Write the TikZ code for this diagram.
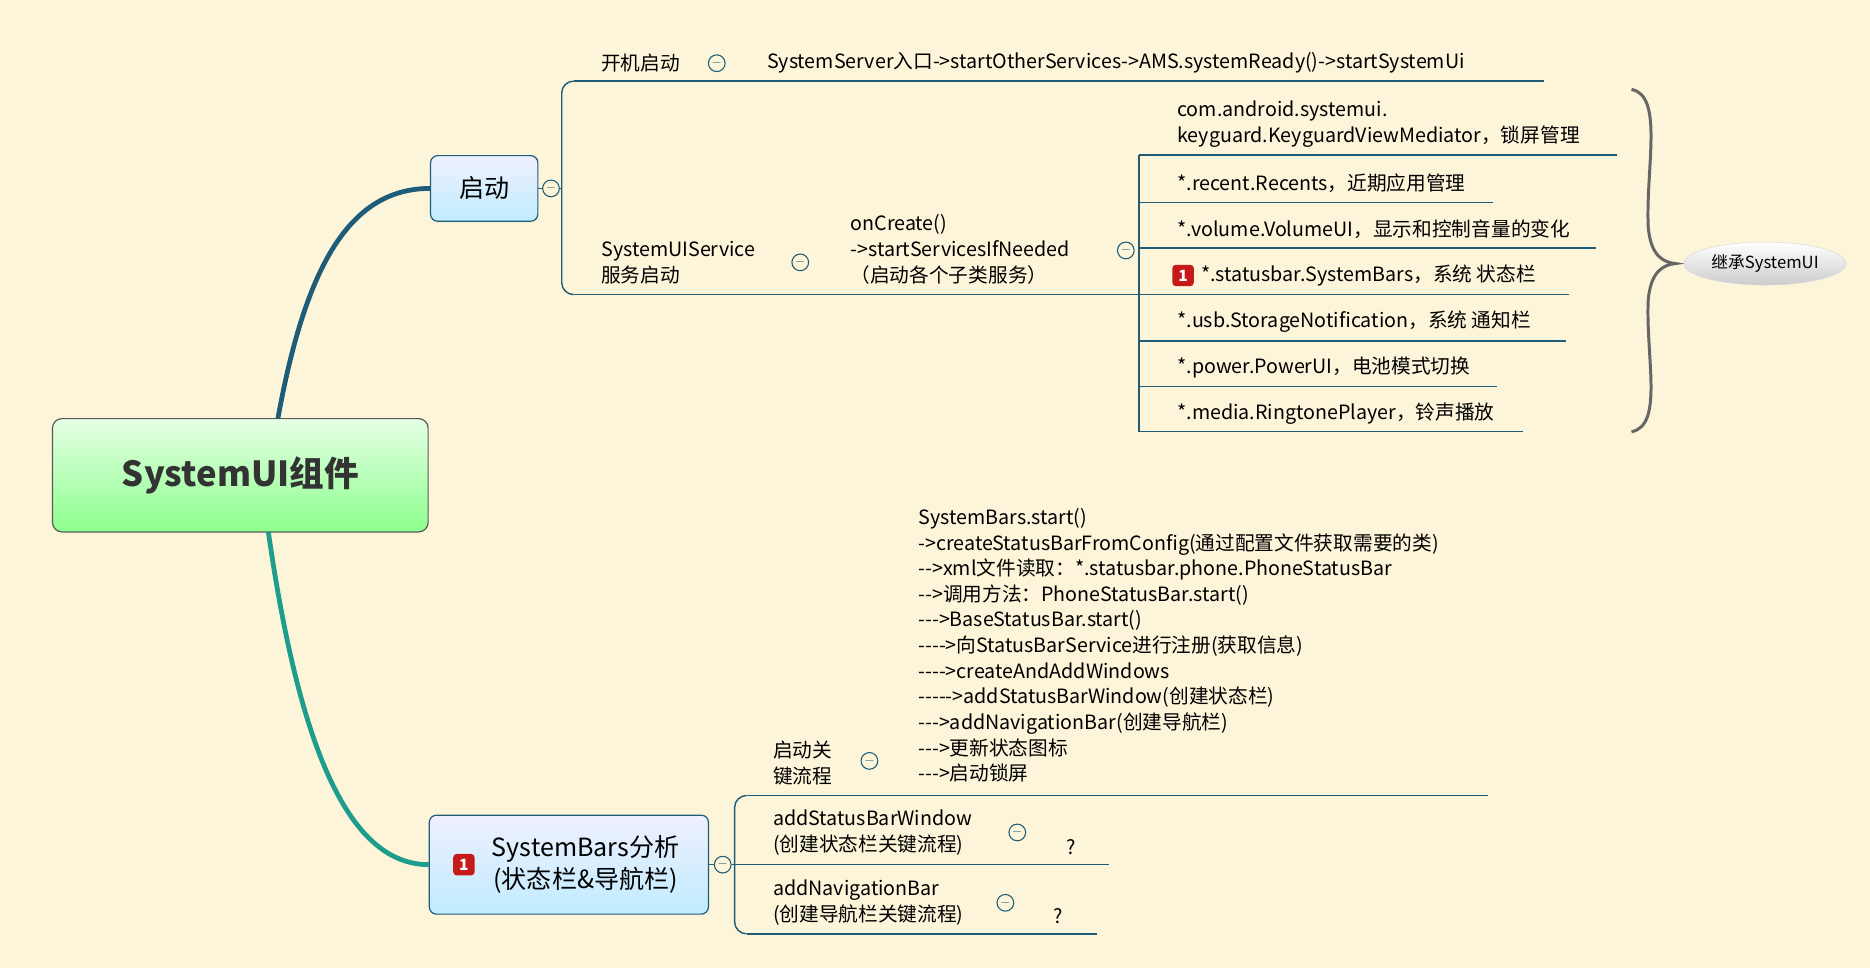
\documentclass[tikz,border=0pt]{standalone}
\usepackage{fontspec}
\setmainfont{Noto Sans CJK SC}[Ligatures=TeXOff]
\usetikzlibrary{shapes.geometric,decorations.pathreplacing}
\definecolor{bg}{HTML}{FCF5D9}
\definecolor{ln}{HTML}{1E5C78}
\definecolor{ln2}{HTML}{1E9C8C}
\tikzset{
 t/.style={font=\fontsize{16.5}{21.5}\selectfont, inner sep=0pt, align=left, anchor=west},
 br/.style={draw=ln, line width=1.2pt},
 col/.style={circle, draw=ln, line width=0.9pt, minimum size=14pt, inner sep=0pt, fill=bg, font=\fontsize{11}{11}\selectfont, text=ln},
 badge/.style={fill=red!75!black!90, text=white, rounded corners=3pt, font=\fontsize{13}{13}\selectfont\bfseries, minimum size=18pt, inner sep=0pt},
 topic/.style={draw=ln, rounded corners=6pt, line width=1pt, top color=blue!6, bottom color=blue!30!cyan!25, font=\fontsize{21}{27}\selectfont, align=center}
}
\newcommand{\mn}{$-$}
\begin{document}
\begin{tikzpicture}[x=1pt,y=-1pt]
\fill[bg] (0,0) rectangle (1568,812);
\useasboundingbox (0,0) rectangle (1568,812);
% central
\node[draw=gray!70!black, rounded corners=8pt, line width=1pt, top color=green!10, bottom color=green!45, minimum width=315pt, minimum height=95pt, font=\fontsize{29}{30}\selectfont\bfseries, text=black!80] (c) at (201.5,398.5) {SystemUI组件};
\node[topic, minimum width=90pt, minimum height=55pt] (qd) at (406,158) {启动};
\node[topic, minimum width=234pt, minimum height=83pt] (sb) at (477,725) {\hspace*{28pt}SystemBars分析\\\hspace*{28pt}(状态栏\&导航栏)};
\node[badge] (b0) at (389,725) {1};
\draw[ln, line width=4pt] (233,351) .. controls (255,230) and (290,158) .. (qd.west);
\draw[ln2, line width=4pt] (225,446) .. controls (250,620) and (290,725) .. (sb.west);
% top subtree
\node[col] (k0) at (462,158) {\mn};
\draw[br] (qd.east) -- (k0);
\draw[br] (481,68) -- (1295,68);
\draw[br] (481,247) -- (955,247);
\draw[br] (k0.east) -- (471,158);
\draw[br, rounded corners=10pt] (481,68) -- (471,68) -- (471,247) -- (481,247);
\node[t] (kj) at (504,53) {开机启动};
\node[col] (k1) at (601,53) {\mn};
\node[t] (ss) at (643,53) {SystemServer入口->startOtherServices->AMS.systemReady()->startSystemUi};
\node[t] (su) at (504,220) {SystemUIService\\服务启动};
\node[col] (k2) at (671,220) {\mn};
\node[t] (oc) at (713,209) {onCreate()\\->startServicesIfNeeded\\（启动各个子类服务）};
\node[col] (k3) at (944,210) {\mn};
\draw[br] (955,130) -- (955,362);
\foreach \y/\e in {130/1356,170/1252,208/1338,247/1316,286/1313,324/1255,362/1277}
  \draw[br] (955,\y) -- (\e,\y);
\node[t] (s1) at (987,104) {com.android.systemui.\\keyguard.KeyguardViewMediator，锁屏管理};
\node[t] (s2) at (987,154) {*.recent.Recents，近期应用管理};
\node[t] (s3) at (987,192) {*.volume.VolumeUI，显示和控制音量的变化};
\node[badge] (b1) at (992,231) {1};
\node[t] (s4) at (1007,231) {*.statusbar.SystemBars，系统 状态栏};
\node[t] (s5) at (987,270) {*.usb.StorageNotification，系统 通知栏};
\node[t] (s6) at (987,308) {*.power.PowerUI，电池模式切换};
\node[t] (s7) at (987,347) {*.media.RingtonePlayer，铃声播放};
\draw[gray!80!black, line width=2.5pt] (1368,75) .. controls (1395,80) and (1380,140) .. (1382,190) .. controls (1384,215) and (1395,220) .. (1405,221) .. controls (1395,222) and (1384,227) .. (1382,252) .. controls (1380,300) and (1395,357) .. (1368,362);
\node[ellipse, minimum width=136pt, minimum height=36pt, inner sep=0pt, top color=white, bottom color=gray!40, draw=gray!30, font=\fontsize{14}{14}\selectfont] (inh) at (1480,221) {继承SystemUI};
% bottom subtree
\node[col] (k4) at (606,725) {\mn};
\draw[br] (sb.east) -- (k4);
\draw[br] (k4.east) -- (626,725);
\draw[br, rounded corners=10pt] (626,667) -- (616,667) -- (616,783) -- (626,783);
\draw[br] (626,667) -- (1248,667);
\draw[br] (626,725) -- (930,725);
\draw[br] (626,783) -- (920,783);
\node[t] (gl) at (648,640) {启动关\\键流程};
\node[col] (k5) at (729,638) {\mn};
\node[t, anchor=north west] (flow) at (770,426) {SystemBars.start()\\->createStatusBarFromConfig(通过配置文件获取需要的类)\\-->xml文件读取：*.statusbar.phone.PhoneStatusBar\\-->调用方法：PhoneStatusBar.start()\\--->BaseStatusBar.start()\\---->向StatusBarService进行注册(获取信息)\\---->createAndAddWindows\\----->addStatusBarWindow(创建状态栏)\\--->addNavigationBar(创建导航栏)\\--->更新状态图标\\--->启动锁屏};
\node[t] (as) at (648,698) {addStatusBarWindow\\(创建状态栏关键流程)};
\node[col] (k6) at (853,698) {\mn};
\node[t] (q1) at (894,710) {?};
\node[t] (an) at (648,757) {addNavigationBar\\(创建导航栏关键流程)};
\node[col] (k7) at (843,757) {\mn};
\node[t] (q2) at (883,768) {?};
\end{tikzpicture}
\end{document}
